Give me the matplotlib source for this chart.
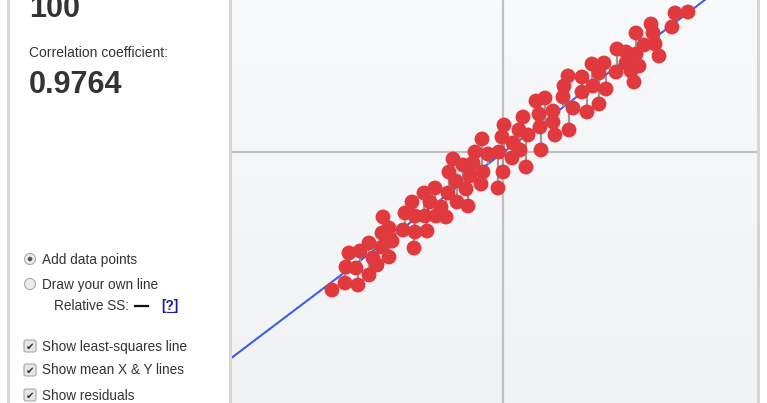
import matplotlib.pyplot as plt
import numpy as np
from matplotlib.patches import Circle, FancyBboxPatch, Rectangle

# points (arbitrary units, plot area spans 0..131.25 by 0..100.75)
x_vals = [25.0, 28.25, 31.5, 34.25, 28.5, 31.0, 29.25, 32.0, 34.25, 35.25,
          36.25, 37.5, 39.25, 40.0, 37.5, 39.25, 37.75, 42.75, 45.5, 45.75,
          48.75, 43.25, 45.0, 45.75, 48.25, 48.0, 50.75, 49.5, 51.0, 52.25,
          53.5, 54.0, 56.25, 59.0, 56.0, 59.5, 58.5, 62.25, 55.25, 57.75,
          60.25, 54.25, 62.75, 60.75, 64.0, 62.5, 66.5, 67.75, 66.75, 68.0,
          67.5, 70.25, 71.75, 74.0, 72.0, 70.0, 73.5, 77.25, 72.75, 76.75,
          77.0, 76.0, 78.25, 80.25, 80.25, 80.75, 84.25, 82.75, 83.0, 84.0,
          85.25, 87.5, 87.5, 88.75, 90.25, 90.0, 93.0, 91.75, 93.5, 91.75,
          96.0, 96.25, 98.5, 101.0, 98.5, 101.75, 99.75, 100.5, 101.0, 103.0,
          105.75, 106.75, 104.75, 105.25, 110.0, 110.75, 114.0]
y_vals = [28.25, 30.0, 29.5, 32.0, 34.0, 33.75, 37.5, 38.0, 40.0, 36.25,
          34.5, 39.0, 36.5, 40.5, 42.5, 43.75, 46.5, 43.25, 38.75, 42.75,
          43.0, 47.5, 50.25, 46.75, 46.75, 52.5, 53.75, 50.25, 46.75, 49.0,
          46.5, 52.5, 50.25, 49.25, 55.5, 56.75, 53.5, 54.75, 61.0, 59.5,
          60.0, 57.75, 57.75, 62.75, 62.25, 66.0, 53.75, 57.75, 62.75, 69.5,
          66.5, 65.0, 68.25, 67.0, 63.25, 61.25, 59.0, 63.25, 71.5, 72.25,
          69.0, 75.5, 76.25, 73.0, 70.25, 67.0, 68.25, 76.5, 79.25, 81.75,
          73.75, 81.5, 77.75, 72.75, 79.25, 84.75, 85.0, 82.5, 78.5, 74.75,
          82.75, 88.5, 87.75, 87.25, 85.0, 84.25, 83.0, 80.25, 92.5, 89.5,
          89.75, 86.75, 94.75, 92.5, 94.0, 97.5, 97.75]
n_label = '100'
corr_label = '0.9764'

x = np.array(x_vals)
y = np.array(y_vals)

W, H = 767, 403
fig = plt.figure(figsize=(W / 100, H / 100), dpi=100, facecolor='white')
plt.rcParams['font.family'] = ['Liberation Sans', 'DejaVu Sans']

# scatter area on the right
ax = fig.add_axes([232 / W, 0, 525 / W, 1])
xmax, ymax = 131.25, 100.75
ax.set_xlim(0, xmax)
ax.set_ylim(0, ymax)
grad = np.linspace(0, 1, 64).reshape(-1, 1)
ax.imshow(grad, extent=[0, xmax, 0, ymax], aspect='auto', origin='lower',
          cmap=plt.matplotlib.colors.LinearSegmentedColormap.from_list('bg', ['#f1f2f4', '#f8f9fb']),
          zorder=0)
for s in ax.spines.values():
    s.set_visible(False)
ax.set_xticks([])
ax.set_yticks([])

# mean lines
ax.axvline(x.mean(), color='#c0c0c0', lw=1.6, zorder=1)
ax.axhline(y.mean(), color='#c0c0c0', lw=1.6, zorder=1)

# least-squares line and residuals
slope, icpt = np.polyfit(x, y, 1)
xs = np.array([0, xmax])
ax.plot(xs, slope * xs + icpt, color='#3d5ee6', lw=1.5, zorder=2)
fit = slope * x + icpt
ax.vlines(x, fit, y, color='#9a9a9a', lw=1.6, zorder=2)

ax.scatter(x, y, s=115, color='#e0393e', edgecolors='none', zorder=3)

# overlay for the control panel, drawn in pixel units
ov = fig.add_axes([0, 0, 1, 1], zorder=5)
ov.set_xlim(0, W)
ov.set_ylim(H, 0)
ov.axis('off')
ov.patch.set_alpha(0)

border = '#d6d6d6'
ov.add_patch(Rectangle((7, 0), 2.5, H, color=border, lw=0))
ov.add_patch(Rectangle((229, 0), 3, H, color=border, lw=0))
ov.add_patch(Rectangle((757, 0), 3, H, color=border, lw=0))

txt = '#333333'
ov.text(29, 17, n_label, fontsize=22, fontweight='bold', color=txt, va='baseline')
ov.text(29, 57, 'Correlation coefficient:', fontsize=10, color=txt, va='baseline')
ov.text(29, 93, corr_label, fontsize=22, fontweight='bold', color=txt, va='baseline')

# radio buttons
for cy, label, on in [(259, 'Add data points', True), (284, 'Draw your own line', False)]:
    ov.add_patch(Circle((30, cy), 5.5, facecolor='#ececec', edgecolor='#a8a8a8', lw=0.8))
    if on:
        ov.add_patch(Circle((30, cy), 2.3, facecolor='#555555', edgecolor='none'))
    ov.text(41.5, cy + 5, label, fontsize=9.8, color=txt, va='baseline')

ov.text(54, 310, 'Relative SS:', fontsize=9.8, color=txt, va='baseline')
ov.plot([135, 148], [306, 306], color='#111111', lw=1.6)
ov.text(161, 310, '[?]', fontsize=9.8, fontweight='bold', color='#1a1aa8', va='baseline')
ov.plot([166.5, 173], [312, 312], color='#1a1aa8', lw=0.8)

# checkboxes
for cy, label in [(346, 'Show least-squares line'), (370, 'Show mean X & Y lines'),
                  (395, 'Show residuals')]:
    ov.add_patch(FancyBboxPatch((24, cy - 6), 12, 12, boxstyle='round,pad=0,rounding_size=2',
                                facecolor='#e6e6e6', edgecolor='#a8a8a8', lw=0.8))
    ov.text(30, cy + 0.5, '\u2714', fontsize=7.5, color='#333333', ha='center', va='center',
            family='DejaVu Sans')
    ov.text(41.5, cy + 4.5, label, fontsize=9.8, color=txt, va='baseline')

fig.savefig('out.png', dpi=100, facecolor='white')
